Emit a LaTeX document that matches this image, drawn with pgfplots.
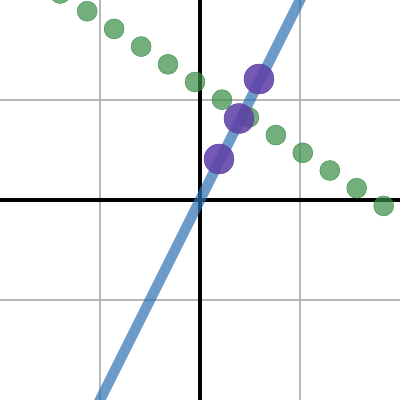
\documentclass[border=0pt]{standalone}
\usepackage{pgfplots}
\pgfplotsset{compat=1.18}
\definecolor{dblue}{HTML}{2D70B3}
\definecolor{dgreen}{HTML}{388C46}
\definecolor{dpurple}{HTML}{6042A6}
\begin{document}
\begin{tikzpicture}
\begin{axis}[
    width=400bp, height=420bp, scale only axis,
    xmin=-2, xmax=2, ymin=-2, ymax=2.2,
    hide axis,
    clip=true,
    clip marker paths=true,
]
% grid lines
\addplot[black!28, line width=1.6bp] coordinates {(-1,-2) (-1,2.2)};
\addplot[black!28, line width=1.6bp] coordinates {(1,-2) (1,2.2)};
\addplot[black!28, line width=1.6bp] coordinates {(-2,-1) (2,-1)};
\addplot[black!28, line width=1.6bp] coordinates {(-2,1) (2,1)};
% axes
\addplot[black, line width=4bp] coordinates {(0,-2) (0,2.2)};
\addplot[black, line width=4bp] coordinates {(-2,0) (2,0)};
% line y = 2x
\addplot[dblue, line width=10.5bp, opacity=0.7] coordinates {(-1.2,-2.4) (1.2,2.4)};
% green points
\addplot[only marks, color=dgreen, mark=*, mark size=10bp,
    mark options={draw=none, fill=dgreen, fill opacity=0.7}] coordinates {
    (-1.398,2.065) (-1.128,1.888) (-0.859,1.711) (-0.589,1.534)
    (-0.320,1.357) (-0.050,1.180) (0.220,1.003) (0.489,0.826)
    (0.759,0.649) (1.028,0.472) (1.298,0.295) (1.567,0.118) (1.837,-0.059)
};
% purple points
\addplot[only marks, color=dpurple, mark=*, mark size=15bp,
    mark options={draw=none, fill=dpurple, fill opacity=0.88}] coordinates {
    (0.19,0.41) (0.39,0.815) (0.59,1.21)
};
\coordinate (bl) at (axis cs:-2,-2);
\coordinate (tr) at (axis cs:2,2);
\end{axis}
\pgfresetboundingbox
\useasboundingbox (bl) rectangle (tr);
\end{tikzpicture}
\end{document}
